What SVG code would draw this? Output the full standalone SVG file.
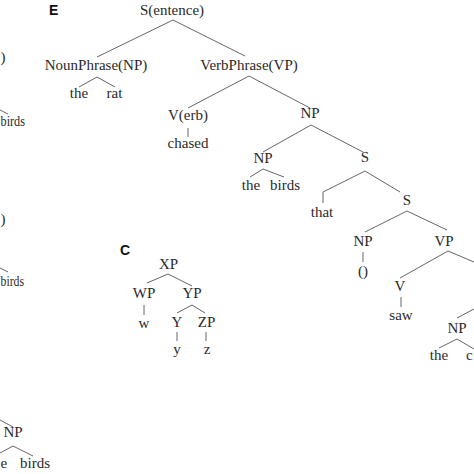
<svg xmlns="http://www.w3.org/2000/svg" width="474" height="474" viewBox="0 0 474 474">
<style>
text{font-family:"Liberation Serif","Times New Roman",serif;font-size:15px;fill:#2a2a2a;text-anchor:middle}
.lbl{font-family:"Liberation Sans",Arial,sans-serif;font-weight:bold;font-size:14px;fill:#111;text-anchor:start}
.st{text-anchor:start}.en{text-anchor:end}
line,polyline{stroke:#666;stroke-width:1;fill:none}
</style>
<rect width="474" height="474" fill="#fff"/>
<g id="connectors">
<line x1="173" y1="20" x2="97" y2="57"/>
<line x1="173" y1="20" x2="245" y2="56"/>
<line x1="97" y1="77" x2="79" y2="87"/>
<line x1="97" y1="77" x2="115" y2="87"/>
<line x1="249" y1="76" x2="188" y2="108"/>
<line x1="249" y1="76" x2="310" y2="108"/>
<line x1="188" y1="128" x2="188" y2="137"/>
<line x1="311" y1="125" x2="263" y2="152"/>
<line x1="311" y1="125" x2="363" y2="152"/>
<line x1="263" y1="169" x2="250" y2="177"/>
<line x1="263" y1="169" x2="284" y2="177"/>
<polyline points="365,171 323,192 323,203"/>
<line x1="365" y1="171" x2="400" y2="192"/>
<line x1="407" y1="211" x2="365" y2="232"/>
<line x1="407" y1="211" x2="447" y2="230"/>
<line x1="363" y1="252" x2="363" y2="262"/>
<line x1="448" y1="251" x2="400" y2="278"/>
<line x1="448" y1="251" x2="474" y2="262"/>
<line x1="401" y1="297" x2="401" y2="307"/>
<line x1="457" y1="318" x2="474" y2="309"/>
<line x1="457" y1="339" x2="439" y2="348"/>
<line x1="457" y1="339" x2="474" y2="349"/>
<line x1="168" y1="274" x2="147" y2="283"/>
<line x1="168" y1="274" x2="192" y2="286"/>
<line x1="144" y1="305" x2="144" y2="315"/>
<line x1="192" y1="305" x2="177" y2="313"/>
<line x1="192" y1="305" x2="205" y2="313"/>
<line x1="177" y1="332" x2="177" y2="341"/>
<line x1="206" y1="332" x2="206" y2="341"/>
<line x1="0" y1="110" x2="8" y2="114"/>
<line x1="0" y1="268" x2="8" y2="272"/>
<line x1="0" y1="420" x2="13" y2="427"/>
<line x1="13" y1="446" x2="0" y2="453"/>
<line x1="13" y1="446" x2="33" y2="456"/>
</g>
<g id="panel-E"><text class="lbl" x="49" y="15">E</text></g>
<g id="panel-C"><text class="lbl" x="120" y="255">C</text></g>
<g id="e-s"><text x="172" y="15">S(entence)</text></g>
<g id="e-np"><text x="96" y="70">NounPhrase(NP)</text></g>
<g id="e-the1"><text x="79" y="98">the</text></g>
<g id="e-rat"><text x="114.5" y="98">rat</text></g>
<g id="e-vp"><text x="249" y="70">VerbPhrase(VP)</text></g>
<g id="e-v"><text x="188" y="120">V(erb)</text></g>
<g id="e-chased"><text x="188" y="148">chased</text></g>
<g id="e-np2"><text x="310" y="118">NP</text></g>
<g id="e-np3"><text x="263" y="163">NP</text></g>
<g id="e-the2"><text x="251" y="190">the</text></g>
<g id="e-birds"><text x="285" y="190">birds</text></g>
<g id="e-s2"><text x="365" y="162">S</text></g>
<g id="e-that"><text x="322" y="217">that</text></g>
<g id="e-s3"><text x="407" y="205">S</text></g>
<g id="e-np4"><text x="363" y="246">NP</text></g>
<g id="e-empty"><text x="363" y="276">()</text></g>
<g id="e-vp2"><text x="444" y="246">VP</text></g>
<g id="e-v2"><text x="400" y="291">V</text></g>
<g id="e-saw"><text x="401" y="320">saw</text></g>
<g id="e-np5"><text x="457" y="333">NP</text></g>
<g id="e-the3"><text x="439" y="360">the</text></g>
<g id="e-c"><text class="st" x="466" y="360">c</text></g>
<g id="c-xp"><text x="168.5" y="269">XP</text></g>
<g id="c-wp"><text x="144" y="298">WP</text></g>
<g id="c-yp"><text x="192" y="298">YP</text></g>
<g id="c-w"><text x="144" y="328">w</text></g>
<g id="c-y"><text x="177" y="327">Y</text></g>
<g id="c-zp"><text x="206.5" y="327">ZP</text></g>
<g id="c-yl"><text x="177" y="354">y</text></g>
<g id="c-z"><text x="207" y="354">z</text></g>
<g id="l-par1"><text class="st" x="0.5" y="62">)</text></g>
<g id="l-birds1"><text class="st" x="0.5" y="126" textLength="24.5" lengthAdjust="spacingAndGlyphs">birds</text></g>
<g id="l-par2"><text class="st" x="0.5" y="224">)</text></g>
<g id="l-birds2"><text class="st" x="0.5" y="286" textLength="23.5" lengthAdjust="spacingAndGlyphs">birds</text></g>
<g id="l-np"><text x="13" y="437">NP</text></g>
<g id="l-e"><text class="st" x="0.5" y="468">e</text></g>
<g id="l-birds3"><text x="35" y="468">birds</text></g>
</svg>
